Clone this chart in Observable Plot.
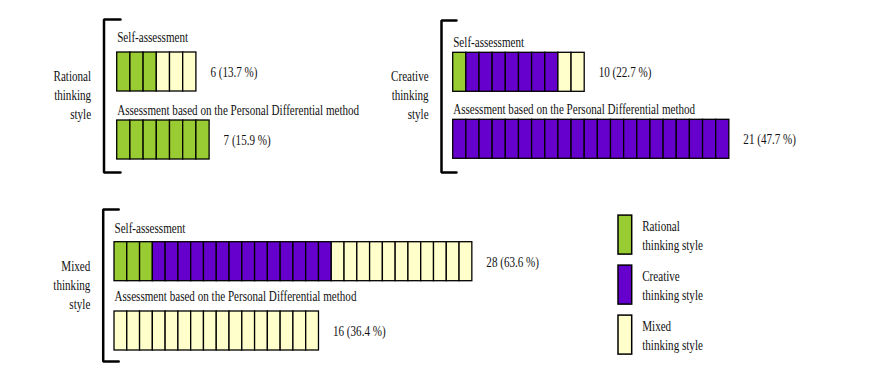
<!DOCTYPE html>
<html><head><meta charset="utf-8">
<script src="https://cdn.jsdelivr.net/npm/d3@7"></script>
<script src="https://cdn.jsdelivr.net/npm/@observablehq/plot@0.6"></script>
<style>
html,body{margin:0;padding:0;background:#fff;}
#chart{position:relative;width:870px;height:375px;overflow:hidden;background:#fff;}
#chart svg{position:absolute;left:0;top:0;}
#chart text, #chart tspan{font-family:'Liberation Serif','Times New Roman',serif !important;font-size:15px;}
</style></head><body><div id="chart"></div>
<script>
// ---- data ----
const styles = ["Rational thinking style", "Creative thinking style", "Mixed thinking style"];
const styleColors = ["#99cc33", "#6600cc", "#ffffcc"];
const legendLabels = ["Rational\nthinking style", "Creative\nthinking style", "Mixed\nthinking style"];
const rowLabels = ["Self-assessment", "Assessment based on the Personal Differential method"];
const panelNames = ["Rational\nthinking\nstyle", "Creative\nthinking\nstyle", "Mixed\nthinking\nstyle"];
// number of cells of each style [rational, creative, mixed], per row [self, PD]
const rationalCounts = [[3, 0, 3], [7, 0, 0]];
const creativeCounts = [[1, 7, 2], [0, 21, 0]];
const mixedCounts = [[3, 14, 11], [0, 0, 16]];
const rationalPercents = [13.7, 15.9];
const creativePercents = [22.7, 47.7];
const mixedPercents = [63.6, 36.4];

// ---- layout ----
const W = 870, H = 375;
const FONT = "Liberation Serif";
const TXT = {fontFamily: FONT, fontSize: 15, fill: "#111"};
const layouts = [
  {x0: 116.7, cell: 13.2, y0: 71.5, gap: 68, barH: 39, bracketX: 103.5, bracketTop: 19, bracketBottom: 172, tick: 16.5, titleGap: [11, 6]},
  {x0: 452.7, cell: 13.15, y0: 71.8, gap: 67, barH: 39, bracketX: 441, bracketTop: 20, bracketBottom: 172, tick: 15, titleGap: [6, 6]},
  {x0: 114, cell: 12.78, y0: 261.2, gap: 69.3, barH: 39, bracketX: 102.7, bracketTop: 209, bracketBottom: 361, tick: 15.5, titleGap: [9, 11]}
];

function panel(name, counts, percents, L) {
  const cells = [];
  counts.forEach((row, r) => {
    let i = 0;
    row.forEach((n, s) => { for (let k = 0; k < n; k++) { cells.push({row: r, i, style: styles[s]}); i++; } });
  });
  const labels = counts.map((row, r) => {
    const t = d3.sum(row);
    return {row: r, total: t, text: `${t} (${percents[r]} %)`};
  });
  const hb = L.barH / 2 / L.gap;
  const bx = (L.bracketX - L.x0) / L.cell;
  const bt = (L.bracketTop - L.y0) / L.gap, bb = (L.bracketBottom - L.y0) / L.gap;
  const tk = L.tick / L.cell;
  const titles = rowLabels.map((t, r) => ({row: r, text: t, gap: L.titleGap[r]}));
  return Plot.plot({
    width: W, height: H, margin: 0,
    style: {background: "transparent", overflow: "visible"},
    x: {domain: [-L.x0 / L.cell, (W - L.x0) / L.cell], range: [0, W], axis: null},
    y: {domain: [-L.y0 / L.gap, (H - L.y0) / L.gap], range: [0, H], axis: null},
    color: {domain: styles, range: styleColors},
    marks: [
      Plot.rect(cells, {x1: d => d.i, x2: d => d.i + 1, y1: d => d.row - hb, y2: d => d.row + hb, fill: "style", stroke: "black", strokeWidth: 1.3}),
      Plot.line([[bx + tk, bt], [bx, bt], [bx, bb], [bx + tk, bb]], {stroke: "black", strokeWidth: 2.5, strokeLinejoin: "miter"}),
      Plot.text(titles.filter(d => d.row === 0), {x: 0, y: d => d.row - hb, dy: -titles[0].gap, text: "text", lineAnchor: "bottom", textAnchor: "start", ...TXT}),
      Plot.text(titles.filter(d => d.row === 1), {x: 0, y: d => d.row - hb, dy: -titles[1].gap, text: "text", lineAnchor: "bottom", textAnchor: "start", ...TXT}),
      Plot.text(labels, {x: "total", y: "row", dx: 14, text: "text", textAnchor: "start", ...TXT}),
      Plot.text([name], {x: bx, y: 0.5, dx: -13, dy: -12, textAnchor: "end", lineHeight: 1.27, ...TXT})
    ]
  });
}

function legend() {
  const x0 = 618, cell = 13.7, y0 = 234.6, gap = 50, boxH = 39;
  const hb = boxH / 2 / gap;
  return Plot.plot({
    width: W, height: H, margin: 0,
    style: {background: "transparent", overflow: "visible"},
    x: {domain: [-x0 / cell, (W - x0) / cell], range: [0, W], axis: null},
    y: {domain: [-y0 / gap, (H - y0) / gap], range: [0, H], axis: null},
    color: {domain: styles, range: styleColors},
    marks: [
      Plot.rect(styles, {x1: 0, x2: 1, y1: (d, i) => i - hb, y2: (d, i) => i + hb, fill: d => d, stroke: "black", strokeWidth: 1.5}),
      Plot.text(legendLabels, {x: 1, y: (d, i) => i, dx: 10, dy: -1, textAnchor: "start", lineHeight: 1.33, ...TXT})
    ]
  });
}

const chart = document.getElementById("chart");
chart.append(
  panel(panelNames[0], rationalCounts, rationalPercents, layouts[0]),
  panel(panelNames[1], creativeCounts, creativePercents, layouts[1]),
  panel(panelNames[2], mixedCounts, mixedPercents, layouts[2]),
  legend()
);

// horizontal compression of the serif text (as in the reference), scaled about each text's own anchor
const K = 0.74;
chart.querySelectorAll("text").forEach(t => {
  const b = t.getBBox();
  const anchor = getComputedStyle(t).textAnchor;
  const ax = anchor === "end" ? b.x + b.width : anchor === "middle" ? b.x + b.width / 2 : b.x;
  const tr = t.getAttribute("transform") || "";
  t.setAttribute("transform", `${tr} translate(${ax},0) scale(${K},1) translate(${-ax},0)`);
});
</script></body></html>
